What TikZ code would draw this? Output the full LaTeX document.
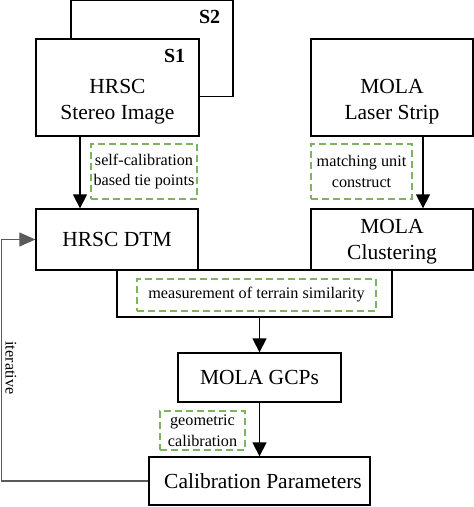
\documentclass[tikz,border=0pt]{standalone}
\usepackage{fontspec}
\setmainfont{Liberation Serif}
\usepackage{xcolor}
\usetikzlibrary{arrows.meta,calc}
\definecolor{dashgreen}{RGB}{125,180,95}
\definecolor{loopgray}{RGB}{90,90,90}
\tikzset{
  box/.style={draw=black,line width=1.3pt,fill=white,inner sep=0pt,align=center,
    font=\fontsize{21.5}{26.5}\selectfont},
  txt/.style={inner sep=0pt,align=center,font=\fontsize{21.5}{26.5}\selectfont},
  note/.style={draw=dashgreen,line width=1.2pt,dash pattern=on 7pt off 4pt,fill=white,
    inner sep=0pt,align=center,font=\fontsize{16.2}{20.5}\selectfont},
  tag/.style={font=\fontsize{20}{24}\selectfont\bfseries,inner sep=0pt},
  arr/.style={line width=1.3pt,-{Triangle[length=14pt,width=14pt]}},
  back/.style={draw=loopgray,line width=1.2pt,-{Triangle[length=16pt,width=14pt]}}
}

\begin{document}
\begin{tikzpicture}[x=1pt,y=-1pt]
\useasboundingbox (0,0) rectangle (474,507);
% Stereo images
\node[box,minimum width=162pt,minimum height=96pt] (s2) at (152,48.8) {}; % s2 behind
\node[tag] (s2tag) at ([xshift=-24pt,yshift=-17pt]s2.north east) {S2};
\node[box,minimum width=163pt,minimum height=97pt] (s1) at (117.5,87.5) {};
\node[txt] (s1text) at ([yshift=-14pt]s1.center) {HRSC\\Stereo Image};
\node[tag] (s1tag) at ([xshift=-25pt,yshift=-18pt]s1.north east) {S1};
% MOLA
\node[box,minimum width=162pt,minimum height=97pt] (strip) at (392,87.5) {};
\node[txt] (striptext) at ([yshift=-14pt]strip.center) {MOLA\\Laser Strip};
% Second row
\node[box,minimum width=162pt,minimum height=61pt] (dtm) at (117,239.5) {HRSC DTM};
\node[box,minimum width=162pt,minimum height=61pt] (clus) at (392,239.5) {};
\node[txt] (clustext) at ([yshift=-2pt]clus.center) {MOLA\\Clustering};
\node[note,minimum width=106pt,minimum height=55pt] (tie) at (144,171.5) {self-calibration\\based tie points};
\node[note,minimum width=101pt,minimum height=55pt] (unit) at (361.5,171.5) {matching unit\\construct};
\draw[arr] ([xshift=-37.5pt]s1.south) -- ([xshift=-37pt]dtm.north); % left arrow
\draw[arr] ([xshift=31pt]strip.south) -- ([xshift=31pt]clus.north); % right arrow
% Similarity
\node[box,minimum width=275pt,minimum height=47pt] (meas) at (254.5,293.5) {};
\node[note,minimum width=239pt,minimum height=32pt] (sim) at (256.5,295) {measurement of terrain similarity};
% GCPs
\node[box,minimum width=163pt,minimum height=49pt] (gcp) at (259.5,377.5) {MOLA GCPs};
\draw[arr] (meas.south -| gcp.north) -- (gcp.north);
\node[box,minimum width=221pt,minimum height=48pt] (calib) at (259.5,481) {\hspace*{7pt}Calibration Parameters};
\node[note,minimum width=85pt,minimum height=39pt] (geo) at (202.5,430.5) {geometric\\calibration};
\draw[arr] (gcp.south) -- (gcp.south |- calib.north);
% Loop back
\draw[back] (calib.west) -| ([xshift=-34pt]dtm.west) -- (dtm.west);
\node[rotate=-90,inner sep=0pt,font=\fontsize{16.2}{20}\selectfont] (iter) at (11,368) {iterative};
\end{tikzpicture}
\end{document}
